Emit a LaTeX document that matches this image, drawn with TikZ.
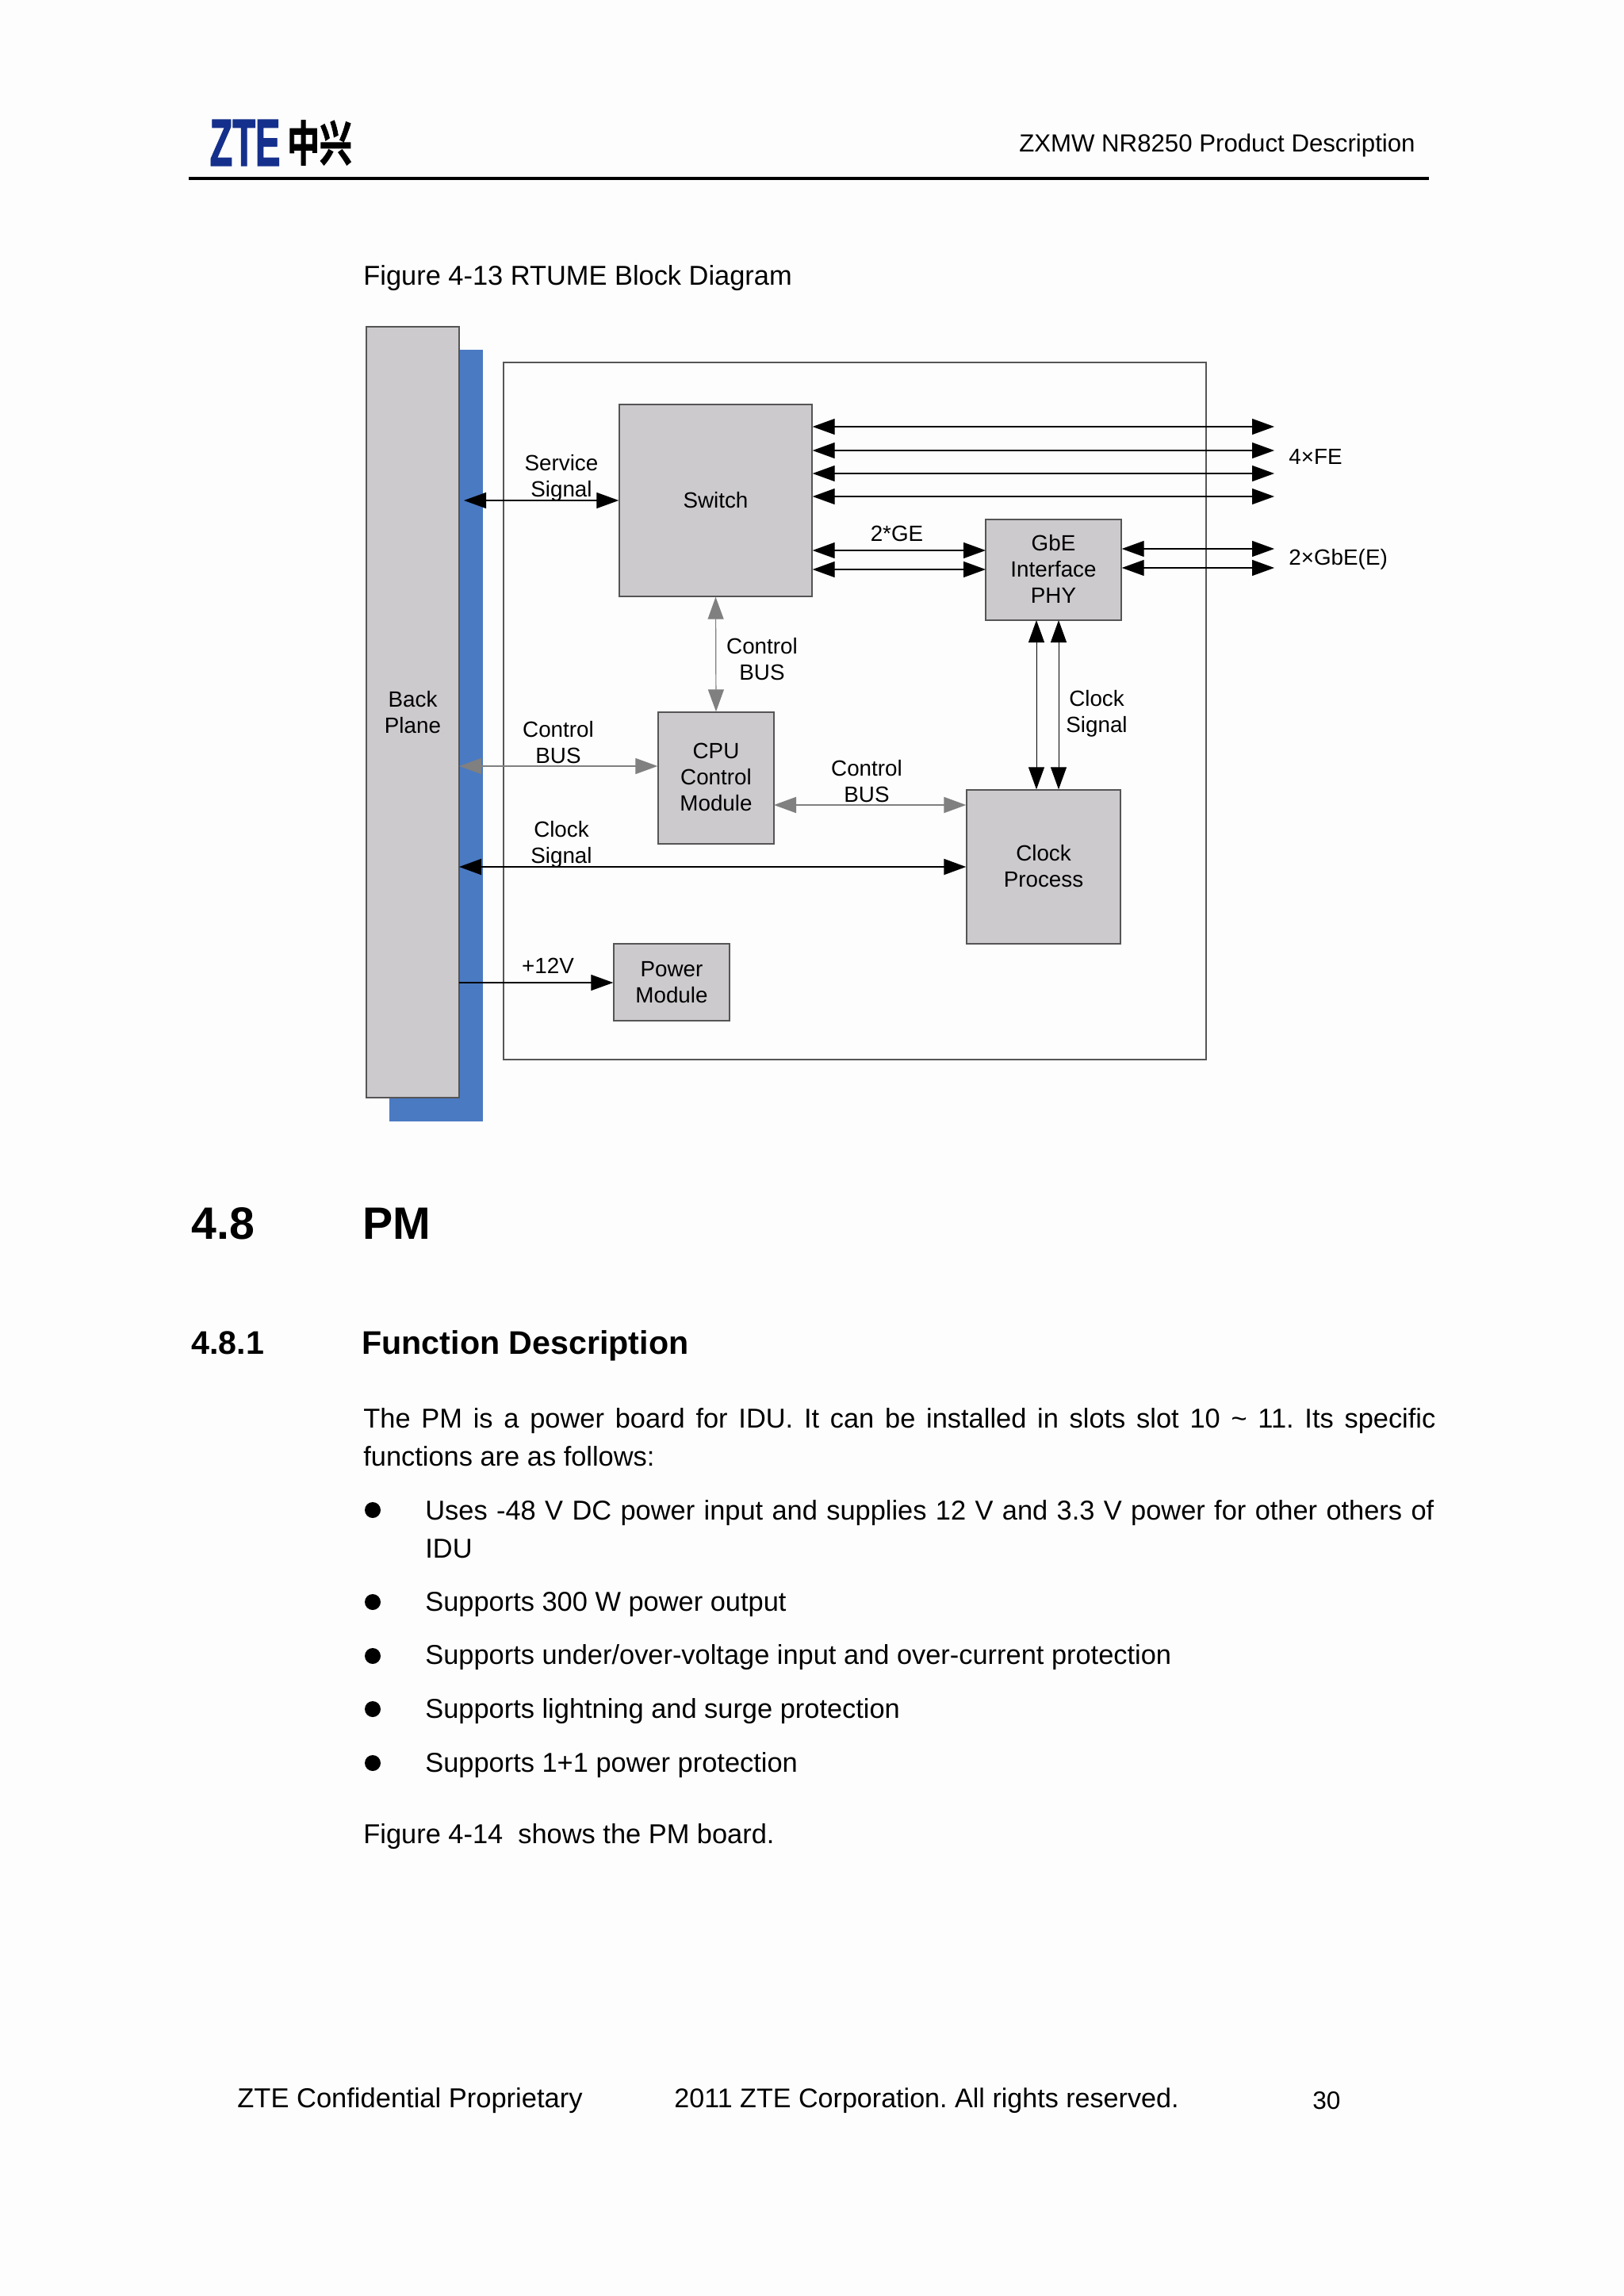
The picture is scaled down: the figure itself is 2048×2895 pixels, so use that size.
\documentclass[tikz,border=0pt]{standalone}
\usepackage{fontspec}
\setmainfont{Liberation Sans}
\newfontfamily\cjklogo[FakeBold=2,BoldFont={Noto Sans CJK SC Bold},BoldFeatures={FakeBold=2}]{Noto Sans CJK SC}
\newfontfamily\latinlogo[BoldFeatures={FakeBold=2}]{Liberation Sans}
\usetikzlibrary{arrows.meta}
\definecolor{boxgray}{HTML}{CCCACD}
\definecolor{bpblue}{HTML}{4A7AC2}
\definecolor{edgegray}{HTML}{555555}
\definecolor{busgray}{HTML}{808080}
\definecolor{ztelogo}{HTML}{15308C}
\definecolor{pagebg}{HTML}{FDFDFD}
\newcommand{\upl}[1]{\raisebox{1pt}{#1}}
\tikzset{
  x=0.5pt,y=-0.5pt,
  box/.style={draw=edgegray,fill=boxgray,line width=.7pt,inner sep=0pt,align=center,
    font=\fontsize{13.9}{16.5}\selectfont},
  lab/.style={inner sep=0pt,align=center,font=\fontsize{13.9}{16.5}\selectfont},
  labl/.style={inner sep=0pt,anchor=west,font=\fontsize{13.9}{16.5}\selectfont},
  bi/.style={draw=black,line width=.6pt,{Triangle[length=14pt,width=10pt]}-{Triangle[length=14pt,width=10pt]}},
  one/.style={draw=black,line width=.6pt,-{Triangle[length=14pt,width=10pt]}},
  bus/.style={draw=busgray,fill=busgray,line width=.6pt,{Triangle[length=14pt,width=10pt]}-{Triangle[length=14pt,width=10pt]}},
  bodyt/.style={inner sep=0pt,anchor=base west,font=\fontsize{17.2}{24}\selectfont\frenchspacing},
  just/.style={inner sep=0pt,anchor=west,font=\fontsize{17.2}{24}\selectfont\frenchspacing,align=justify},
  bull/.style={circle,fill=black,inner sep=0pt,minimum size=10pt},
  foot/.style={inner sep=0pt,anchor=base west,font=\fontsize{17.25}{24}\selectfont\frenchspacing},
  h1/.style={inner sep=0pt,anchor=base west,font=\fontsize{28.6}{34}\selectfont\bfseries},
  h2/.style={inner sep=0pt,anchor=base west,font=\fontsize{20.6}{26}\selectfont\bfseries},
}
\begin{document}
\begin{tikzpicture}
\useasboundingbox (0,0) rectangle (2048,2895);
\fill[pagebg] (0,0) rectangle (2048,2895);
% header
\node[inner sep=0pt,xscale=.56,text=ztelogo,font=\fontsize{42}{42}\selectfont\latinlogo\bfseries] (logoa) at (309,180) {ZTE};
\node[inner sep=0pt,xscale=.68,font=\fontsize{30}{30}\selectfont\cjklogo\bfseries] (logob) at (403,180) {中兴};
\node[inner sep=0pt,anchor=base east,font=\fontsize{15.6}{20}\selectfont] (hdr) at (1785,192) {ZXMW NR8250 Product Description};
\coordinate (rl) at (238,225); \coordinate (rr) at (1802,225);
\draw[line width=1.75pt] (rl) -- (rr);
\node[bodyt] (cap) at (458,359) {Figure 4-13 RTUME Block Diagram};
% diagram
\node[fill=bpblue,inner sep=0pt,minimum width=59pt,minimum height=486.5pt] (blue) at (550,927.5) {};
\node[box,minimum width=58.5pt,minimum height=486pt] (bp) at (520.5,898) {Back\\Plane};
\node[draw=edgegray,line width=.6pt,inner sep=0pt,minimum width=443pt,minimum height=439.5pt] (outer) at (1078,896.5) {};
\node[box,minimum width=121.5pt,minimum height=121pt] (sw) at (902.5,631) {Switch};
\node[box,minimum width=85.5pt,minimum height=63.5pt] (gbe) at (1328.5,718.5) {\upl{GbE}\\\upl{Interface}\\\upl{PHY}};
\node[box,minimum width=73pt,minimum height=83pt] (cpu) at (903,981) {\upl{CPU}\\\upl{Control}\\\upl{Module}};
\node[box,minimum width=97pt,minimum height=97pt] (clk) at (1316,1093) {\upl{Clock}\\\upl{Process}};
\node[box,minimum width=73pt,minimum height=48.5pt] (pwr) at (847,1238.5) {Power\\Module};
\coordinate (fe1) at (1607,538);
\coordinate (fe2) at (1607,568);
\coordinate (fe3) at (1607,597);
\coordinate (fe4) at (1607,626);
\coordinate (ge1) at (1243,694);
\coordinate (ge2) at (1243,718);
\coordinate (oe1) at (1607,692);
\coordinate (oe2) at (1607,716);
\coordinate (svc) at (585,631);
\coordinate (vc1) at (1307,782);
\coordinate (vc2) at (1335,782);
\draw[bi] (sw.east |- fe1) -- (fe1);
\draw[bi] (sw.east |- fe2) -- (fe2);
\draw[bi] (sw.east |- fe3) -- (fe3);
\draw[bi] (sw.east |- fe4) -- (fe4);
\draw[bi] (sw.east |- ge1) -- (ge1);
\draw[bi] (sw.east |- ge2) -- (ge2);
\draw[bi] (gbe.east |- oe1) -- (oe1);
\draw[bi] (gbe.east |- oe2) -- (oe2);
\draw[bi] (svc) -- (sw.west |- svc);
\draw[bi,line width=.5pt] (vc1) -- (vc1 |- clk.north);
\draw[bi,line width=.5pt] (vc2) -- (vc2 |- clk.north);
\coordinate (y1) at (579,1093);
\coordinate (y2) at (579,1239);
\coordinate (y3) at (579,966);
\coordinate (y4) at (976,1015);
\draw[bus] (sw.south) -- (cpu.north);
\draw[bus] (y3) -- (cpu.west |- y3);
\draw[bus,line width=.9pt] (y4) -- (clk.west |- y4);
\draw[bi,line width=.9pt] (y1) -- (clk.west |- y1);
\draw[one] (y2) -- (pwr.west |- y2);
% labels
\node[lab] (l1) at (708,602.5) {Service\\Signal};
\node[lab] (l2) at (1131,673) {2*GE};
\node[labl] (l3) at (1625,576) {4×FE};
\node[labl] (l4) at (1625,705) {2×GbE(E)};
\node[lab] (l5) at (961,831.5) {Control\\BUS};
\node[lab] (l6) at (1383,899.5) {Clock\\Signal};
\node[lab] (l7) at (704,936) {Control\\BUS};
\node[lab] (l8) at (1093,985) {Control\\BUS};
\node[lab] (l9) at (708,1064.5) {Clock\\Signal};
\node[lab] (l10) at (691,1218) {+12V};
% headings
\node[h1] (n1) at (241,1562) {4.8};
\node[h1] (n2) at (457,1562) {PM};
\node[h2] (n3) at (241,1707) {4.8.1};
\node[h2] (n4) at (456,1707) {Function Description};
% body
\node[just,text width=676pt] (p1) at (458,1812) {The PM is a power board for IDU. It can be installed in slots slot 10 \textasciitilde{} 11. Its specific functions are as follows:};
\node[just,text width=636pt] (p2) at (536,1928) {Uses -48 V DC power input and supplies 12 V and 3.3 V power for other others of IDU};
\node[bodyt] (p3) at (536,2031) {Supports 300 W power output};
\node[bodyt] (p4) at (536,2098) {Supports under/over-voltage input and over-current protection};
\node[bodyt] (p5) at (536,2166) {Supports lightning and surge protection};
\node[bodyt] (p6) at (536,2234) {Supports 1+1 power protection};
\node[bull] (b2) at (470,1904) {};
\node[bull] (b3) at (470,2020) {};
\node[bull] (b4) at (470,2088) {};
\node[bull] (b5) at (470,2155) {};
\node[bull] (b6) at (470,2223) {};
\node[bodyt] (p7) at (458,2324) {Figure 4-14\ \ shows the PM board.};
% footer
\node[foot] (f1) at (299,2657) {ZTE Confidential Proprietary};
\node[foot,font=\fontsize{17.05}{24}\selectfont\frenchspacing] (f2) at (850,2657) {2011 ZTE Corporation. All rights reserved.};
\node[inner sep=0pt,anchor=base west,font=\fontsize{15.8}{20}\selectfont] (f3) at (1655,2659) {30};
\end{tikzpicture}
\end{document}
